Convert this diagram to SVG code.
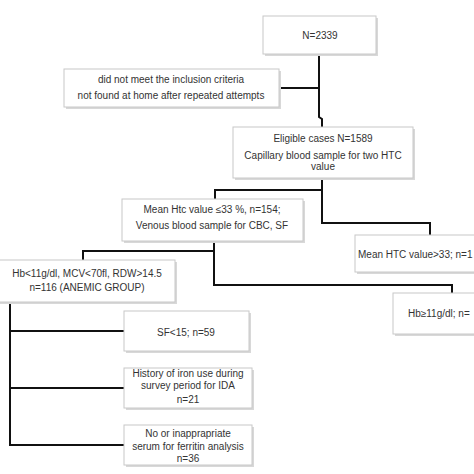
<svg xmlns="http://www.w3.org/2000/svg" width="474" height="474" viewBox="0 0 474 474">
<style>
.box{fill:#fff;stroke:#c8c8c8;stroke-width:1}
.sh{fill:#d8d8d8}
.t{font-family:"Liberation Sans",Arial,sans-serif;font-size:10px;fill:#333;text-anchor:middle}
.tl{font-family:"Liberation Sans",Arial,sans-serif;font-size:10px;fill:#333}
.c{fill:none;stroke:#111;stroke-width:2}
</style>
<rect width="474" height="474" fill="#fff"/>
<g id="connectors">
<polyline class="c" points="319,54 319,117 322,119 322,127"/>
<line class="c" x1="279" y1="88" x2="319" y2="88"/>
<polyline class="c" points="322,178 322,223 430,223 430,235"/>
<polyline class="c" points="322,190 215,190 215,199"/>
<polyline class="c" points="214,241 214,285 452,285 452,293"/>
<polyline class="c" points="214,251 83,251 83,260"/>
<polyline class="c" points="10,302 10,445 124,445"/>
<line class="c" x1="10" y1="331" x2="124" y2="331"/>
<line class="c" x1="10" y1="388" x2="124" y2="388"/>
</g>
<g id="n2339">
<rect class="sh" x="265" y="18" width="113" height="38"/>
<rect class="box" x="263" y="16" width="113" height="38"/>
<text class="t" x="320" y="39">N=2339</text>
</g>
<g id="excluded">
<rect class="sh" x="66" y="71" width="215" height="38"/>
<rect class="box" x="64" y="69" width="215" height="38"/>
<text class="t" x="171" y="83">did not meet the inclusion criteria</text>
<text class="t" x="171" y="99">not found at home after repeated attempts</text>
</g>
<g id="eligible">
<rect class="sh" x="235" y="129" width="180" height="51"/>
<rect class="box" x="233" y="127" width="180" height="51"/>
<text class="t" x="323" y="142">Eligible cases N=1589</text>
<text class="t" x="323" y="159">Capillary blood sample for two HTC</text>
<text class="t" x="323" y="170">value</text>
</g>
<g id="lowhtc">
<rect class="sh" x="124" y="201" width="181" height="42"/>
<rect class="box" x="122" y="199" width="181" height="42"/>
<text class="t" x="212" y="213">Mean Htc value ≤33 %, n=154;</text>
<text class="t" x="212" y="229">Venous blood sample for CBC, SF</text>
</g>
<g id="highhtc">
<rect class="sh" x="357" y="237" width="130" height="37"/>
<rect class="box" x="355" y="235" width="130" height="37"/>
<text class="tl" x="358" y="258">Mean HTC value&gt;33; n=1</text>
</g>
<g id="anemic">
<rect class="sh" x="-3" y="262" width="180" height="42"/>
<rect class="box" x="-5" y="260" width="180" height="42"/>
<text class="t" x="87" y="277">Hb&lt;11g/dl, MCV&lt;70fl, RDW&gt;14.5</text>
<text class="t" x="87" y="291">n=116 (ANEMIC GROUP)</text>
</g>
<g id="hbhigh">
<rect class="sh" x="395" y="295" width="90" height="41"/>
<rect class="box" x="393" y="293" width="90" height="41"/>
<text class="tl" x="408" y="317">Hb≥11g/dl; n=</text>
</g>
<g id="sf">
<rect class="sh" x="126" y="313" width="125" height="40"/>
<rect class="box" x="124" y="311" width="125" height="40"/>
<text class="t" x="186" y="336">SF&lt;15; n=59</text>
</g>
<g id="history">
<rect class="sh" x="126" y="370" width="128" height="40"/>
<rect class="box" x="124" y="368" width="128" height="40"/>
<text class="t" x="188" y="377">History of iron use during</text>
<text class="t" x="188" y="389">survey period for IDA</text>
<text class="t" x="188" y="403">n=21</text>
</g>
<g id="noserum">
<rect class="sh" x="126" y="427" width="128" height="40"/>
<rect class="box" x="124" y="425" width="128" height="40"/>
<text class="t" x="188" y="437">No or inapprapriate</text>
<text class="t" x="188" y="450">serum for ferritin analysis</text>
<text class="t" x="188" y="462">n=36</text>
</g>
</svg>
